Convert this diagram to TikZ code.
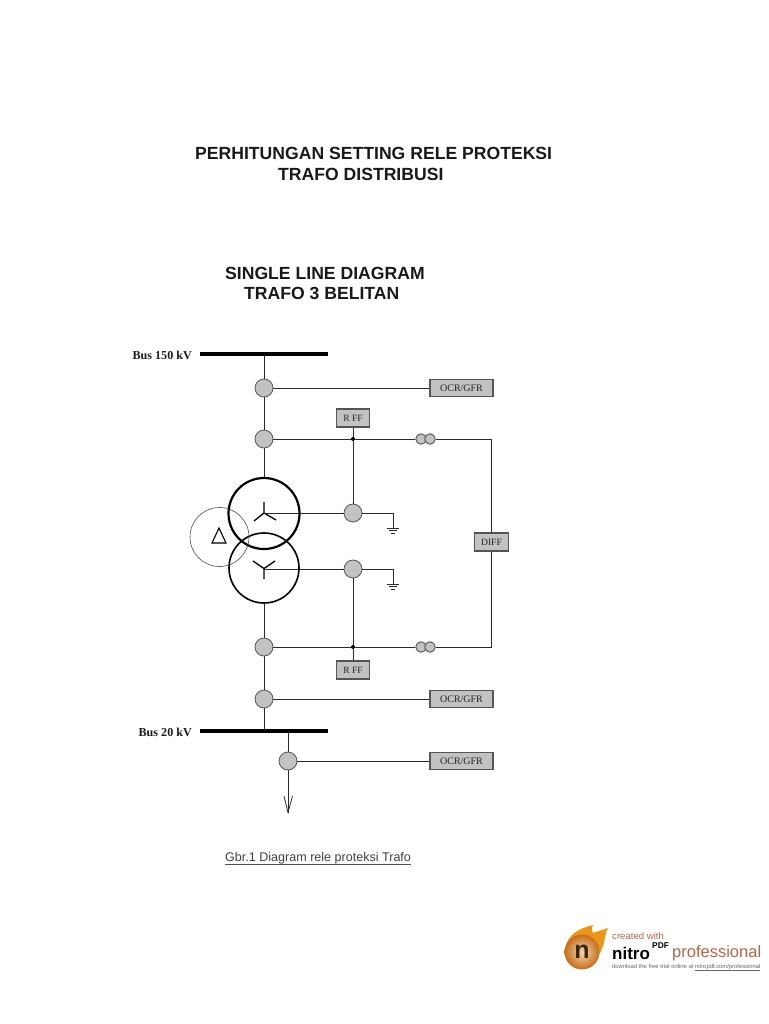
\documentclass[tikz,border=0pt]{standalone}
\usepackage{fontspec}
\setmainfont{Liberation Sans}
\newfontfamily\serifface{Liberation Serif}
\usetikzlibrary{calc}
\definecolor{wire}{HTML}{2A2A2A}
\definecolor{relay}{HTML}{C2C2C2}
\definecolor{relayedge}{HTML}{555555}
\definecolor{nitroorange}{HTML}{E8821E}
\definecolor{nitrobrown}{HTML}{B5654A}
\newcommand{\lowtxt}[1]{\raisebox{-2.5pt}{#1}}
\tikzset{
  wireline/.style={draw=wire,line width=1pt},
  ctr/.style={circle,draw=relayedge,line width=0.8pt,fill=relay,minimum size=18pt,inner sep=0pt},
  smallct/.style={circle,draw=relayedge,line width=0.9pt,fill=relay,minimum size=10.5pt,inner sep=0pt},
  ocrbox/.style={rectangle,draw=relayedge,line width=1.1pt,fill=relay,minimum width=63pt,minimum height=17.5pt,inner sep=0pt,font=\serifface\fontsize{10}{11}\selectfont,text=black!85},
  refbox/.style={rectangle,draw=relayedge,line width=1.1pt,fill=relay,minimum width=33pt,minimum height=18pt,inner sep=0pt,font=\serifface\fontsize{9.6}{11}\selectfont,text=black!85},
  busbar/.style={rectangle,fill=black,minimum width=128pt,minimum height=3.8pt,inner sep=0pt},
  winding/.style={circle,draw=black,inner sep=0pt},
  title/.style={anchor=west,inner sep=0pt,font=\bfseries\fontsize{17.6}{20}\selectfont,text=black!90},
  buslabel/.style={anchor=east,inner sep=0pt,font=\serifface\bfseries\fontsize{12.1}{13}\selectfont,text=black!90},
  junction/.style={circle,fill=black,minimum size=4pt,inner sep=0pt}
}
\begin{document}
\begin{tikzpicture}[x=1pt,y=-1pt]
\useasboundingbox (0,0) rectangle (768,1024);
% titles
\node[title] (t1) at (195,153) {PERHITUNGAN SETTING RELE PROTEKSI};
\node[title] (t2) at (278,174) {TRAFO DISTRIBUSI};
\node[title] (t3) at (225,273) {SINGLE LINE DIAGRAM};
\node[title] (t4) at (244,293) {TRAFO 3 BELITAN};
% buses
\node[busbar] (bus1) at (264,354) {};
\node[busbar] (bus2) at (264,731) {};
\node[buslabel] (bl1) at (192,355) {Bus 150 kV};
\node[buslabel] (bl2) at (192,732) {Bus 20 kV};
% transformer windings
\node[winding,line width=2.2pt,minimum size=71pt] (w1) at (264,513.5) {};
\node[winding,line width=1.6pt,minimum size=70pt] (w2) at (264,568) {};
\node[winding,draw=black!70,line width=0.6pt,minimum size=59pt] (w3) at (219.5,537) {};
\draw[black,line width=1.1pt,line join=miter] (219,528) -- (212,543) -- (226,543) -- cycle;
\coordinate (y1) at (264,513);
\coordinate (y2) at (264,568.5);
\draw[black,line width=1.3pt] (y1) -- (264,502) (y1) -- (254,521) (y1) -- (276,520);
\draw[black,line width=1.3pt] (y2) -- (253,561) (y2) -- (275,561) (y2) -- (264,579);
% current transformers
\node[ctr] (c1) at (264,388) {};
\node[ctr] (c2) at (264,439) {};
\node[ctr] (c3) at (264,647) {};
\node[ctr] (c4) at (264,699) {};
\node[ctr] (c5) at (288,761) {};
\node[ctr] (n1) at (353,513) {};
\node[ctr] (n2) at (353,569) {};
% relays
\node[ocrbox] (o1) at (461.5,388) {\lowtxt{OCR/GFR}};
\node[ocrbox] (o2) at (461.5,699) {OCR/GFR};
\node[ocrbox] (o3) at (461.5,761) {\lowtxt{OCR/GFR}};
\node[refbox] (r1) at (353,418) {R FF};
\node[refbox] (r2) at (353,670) {R FF};
\node[refbox,minimum width=34pt] (d) at (491.5,542) {\lowtxt{DIFF}};
% small CTs
\node[smallct] (s1a) at (421,439) {};
\node[smallct] (s1b) at (430,439) {};
\node[smallct] (s2a) at (421,647) {};
\node[smallct] (s2b) at (430,647) {};
% free ends
\coordinate (k1) at (491.5,439);
\coordinate (k2) at (491.5,647);
\coordinate (g1) at (393,513);
\coordinate (g1b) at (393,528);
\coordinate (g2) at (393,569);
\coordinate (g2b) at (393,584);
\coordinate (tip) at (288,812.5);
% connectors
\draw[wireline] (bus1.south -| c1) -- (c1);
\draw[wireline] (c1) -- (c2);
\draw[wireline] (c2) -- (w1);
\draw[wireline] (w2) -- (c3);
\draw[wireline] (c3) -- (c4);
\draw[wireline] (c4) -- (bus2.north -| c4);
\draw[wireline] (bus2.south -| c5) -- (c5);
\draw[wireline] (c5) -- (tip);
\draw[wireline,line width=0.8pt] (284,796) -- (tip) -- (292.5,796);
\draw[wireline] (c1) -- (o1);
\draw[wireline] (c4) -- (o2);
\draw[wireline] (c5) -- (o3);
\draw[wireline] (c2) -- (s1a);
\draw[wireline] (c3) -- (s2a);
\draw[wireline] (s1b) -- (k1) -- (d);
\draw[wireline] (s2b) -- (k2) -- (d);
\draw[wireline] (r1) -- (n1);
\draw[wireline] (n2) -- (r2);
\draw[wireline] (y1) -- (n1);
\draw[wireline] (y2 |- n2) -- (n2);
\draw[wireline] (n1) -- (g1) -- (g1b);
\draw[wireline] (n2) -- (g2) -- (g2b);
\foreach \g in {g1b,g2b}{
  \draw[wireline] ($(\g)+(-6,0)$) -- ($(\g)+(6,0)$);
  \draw[wireline,line width=0.7pt] ($(\g)+(-4,2.5)$) -- ($(\g)+(4,2.5)$);
  \draw[wireline,line width=0.6pt] ($(\g)+(-2,5)$) -- ($(\g)+(2,5)$);
}
\node[junction] (j1) at (353,439) {};
\node[junction] (j2) at (353,647) {};
% caption
\node[anchor=west,inner sep=0pt,text=black!75,font=\fontsize{12.55}{14}\selectfont] (cap) at (225,858) {Gbr.1 Diagram rele proteksi Trafo};
\draw[black!70,line width=0.8pt] (cap.west |- 0,864.5) -- (cap.east |- 0,864.5);
% logo
\fill[nitroorange!85!yellow] (566,945) .. controls (570,932) and (582,928) .. (593,925) .. controls (591,929) and (592,931) .. (593,933) .. controls (598,931) and (603,930) .. (608,928) .. controls (604,935) and (606,940) .. (602,948) .. controls (600,958) and (590,962) .. (580,960) -- cycle;
\shade[inner color=nitroorange!35!white,outer color=nitroorange!85!black] (582,952) circle (17.5);
\node[inner sep=0pt,text=black!70!brown,font=\bfseries\fontsize{25}{25}\selectfont] (ln) at (582,952) {n};
\node[anchor=west,inner sep=0pt,text=nitrobrown,font=\fontsize{9.6}{11}\selectfont] (lc) at (612,936) {created with};
\node[anchor=west,inner sep=0pt,text=black,font=\bfseries\fontsize{17}{18}\selectfont] (ln2) at (612,953) {nitro};
\node[anchor=west,inner sep=0pt,text=black,font=\bfseries\fontsize{8.4}{9}\selectfont] (lp) at (652,946) {PDF};
\node[anchor=west,inner sep=0pt,text=nitrobrown,font=\fontsize{16.5}{18}\selectfont] (lf) at (672,953) {professional};
\node[anchor=west,inner sep=0pt,text=black!60,font=\fontsize{5.85}{6.5}\selectfont] (ld) at (612,967.5) {download the free trial online at \underline{\smash{nitropdf.com/professional}}};
\end{tikzpicture}
\end{document}
